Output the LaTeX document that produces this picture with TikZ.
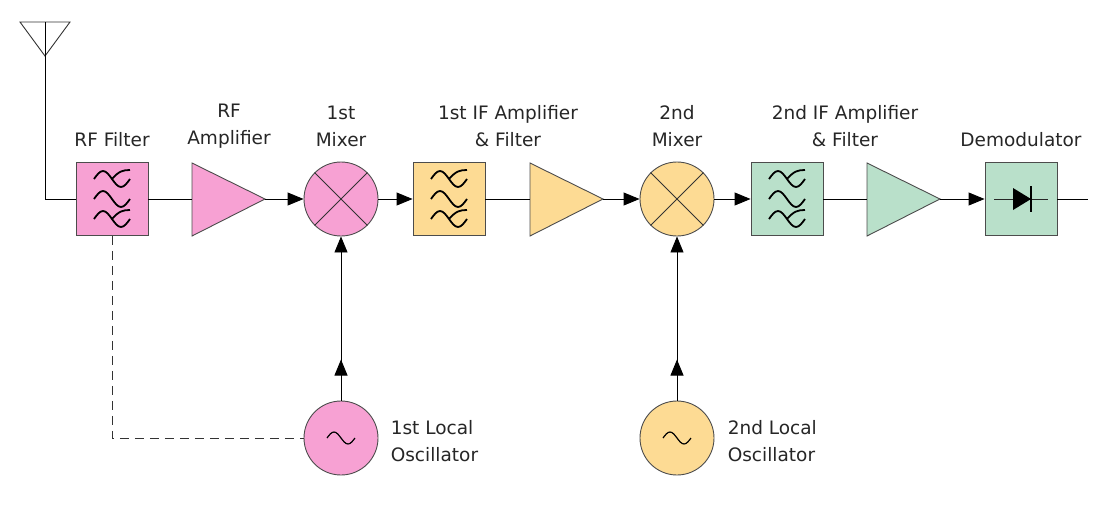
\documentclass[tikz,border=0pt]{standalone}
\usepackage{fontspec}
\setmainfont{DejaVu Sans}
\usetikzlibrary{arrows.meta,decorations.markings,calc}
\definecolor{pk}{HTML}{F7A1D3}
\definecolor{yl}{HTML}{FDDB94}
\definecolor{gn}{HTML}{B9E0CA}
\begin{document}
\begin{tikzpicture}[x=1pt,y=-1pt,line width=0.9pt,
 box/.style={draw=black!70,minimum width=72pt,minimum height=73pt,inner sep=0},
 mix/.style={draw=black!70,circle,minimum size=74pt,inner sep=0},
 lbl/.style={font=\fontsize{18.5}{27}\selectfont,align=center,text=black!85},
 arr/.style={-{Triangle[length=16pt,width=13pt]}},
 wire/.style={draw=black}]
\useasboundingbox (0,0) rectangle (1107,517);
% antenna
\coordinate (at) at (45,22);
\coordinate (ac) at (45,199);
\draw[black!80] (20,22) -- (70,22) -- (45,56) -- cycle;
\draw[wire] (at) -- (ac);
% filters
\newcommand{\filt}[1]{%
 \foreach \yy in {-20,0,20}{\draw[line width=1.8pt] ($(#1)+(-18,\yy)$) sin ++(9,-8) cos ++(9,8) sin ++(9,8) cos ++(9,-8);}
 \foreach \yy in {-20,20}{\draw[line width=1.8pt] ($(#1)+(0,\yy)$) .. controls ++(7,-8) and ++(-7,0) .. ++(18,-9);}}
\node[box,fill=pk] (f1) at (112,199) {};
\node[box,fill=yl] (f2) at (449,199) {};
\node[box,fill=gn] (f3) at (787,199) {};
\filt{f1.center}\filt{f2.center}\filt{f3.center}
% amplifiers
\newcommand{\amp}[3]{\draw[draw=black!70,fill=#3] (#1,163) -- (#1,236) -- (#2,199) -- cycle;}
\amp{192}{265}{pk}\coordinate (a1i) at (192,199);\coordinate (a1o) at (265,199);
\amp{530}{603}{yl}\coordinate (a2i) at (530,199);\coordinate (a2o) at (603,199);
\amp{867}{940}{gn}\coordinate (a3i) at (867,199);\coordinate (a3o) at (940,199);
% mixers
\node[mix,fill=pk] (m1) at (341,199) {};
\node[mix,fill=yl] (m2) at (677,199) {};
\foreach \m in {m1,m2}{\draw[black!80] (\m.45)--(\m.225) (\m.135)--(\m.315);}
% demod
\node[box,fill=gn] (d) at (1021,199) {};
\draw[black!85] (d.center) ++(-27,0) -- ++(54,0);
\fill (d.center) ++(-8,-11) -- ++(0,22) -- ++(18,-11) -- cycle;
\draw[line width=1.2pt] (d.center) ++(10,-13) -- ++(0,26);
\coordinate (out) at (1088,199);
% oscillators
\node[mix,fill=pk] (o1) at (341,438) {};
\node[mix,fill=yl] (o2) at (677,438) {};
\foreach \o in {o1,o2}{\draw[line width=1.2pt] (\o.center) ++(-14,0) sin ++(7,-6) cos ++(7,6) sin ++(7,6) cos ++(7,-6);}
% wires
\draw[wire] (ac) -- (f1.west);
\draw[wire] (f1.east) -- (a1i);
\draw[wire,arr] (a1o) -- (m1.west);
\draw[wire,arr] (m1.east) -- (f2.west);
\draw[wire] (f2.east) -- (a2i);
\draw[wire,arr] (a2o) -- (m2.west);
\draw[wire,arr] (m2.east) -- (f3.west);
\draw[wire] (f3.east) -- (a3i);
\draw[wire,arr] (a3o) -- (d.west);
\draw[wire] (d.east) -- (out);
\foreach \o/\m in {o1/m1,o2/m2}{
 \draw[wire,arr,postaction={decorate},decoration={markings,mark=at position 0.25 with {\arrow{Triangle[length=16pt,width=13pt]}}}] (\o.north) -- (\m.south);}
\draw[black!80,dashed,dash pattern=on 9pt off 6pt] (f1.south) |- (o1.west);
% labels
\node[lbl] at (112,140) {RF Filter};
\node[lbl] at (229,126) {RF\\Amplifier};
\node[lbl] at (341,126) {1st\\Mixer};
\node[lbl] at (508,126) {1st IF Amplifier\\\& Filter};
\node[lbl] at (677,126) {2nd\\Mixer};
\node[lbl] at (845,126) {2nd IF Amplifier\\\& Filter};
\node[lbl] at (1021,140) {Demodulator};
\node[lbl,align=left,anchor=west] at (387,441) {1st Local\\Oscillator};
\node[lbl,align=left,anchor=west] at (724,441) {2nd Local\\Oscillator};
\end{tikzpicture}
\end{document}
